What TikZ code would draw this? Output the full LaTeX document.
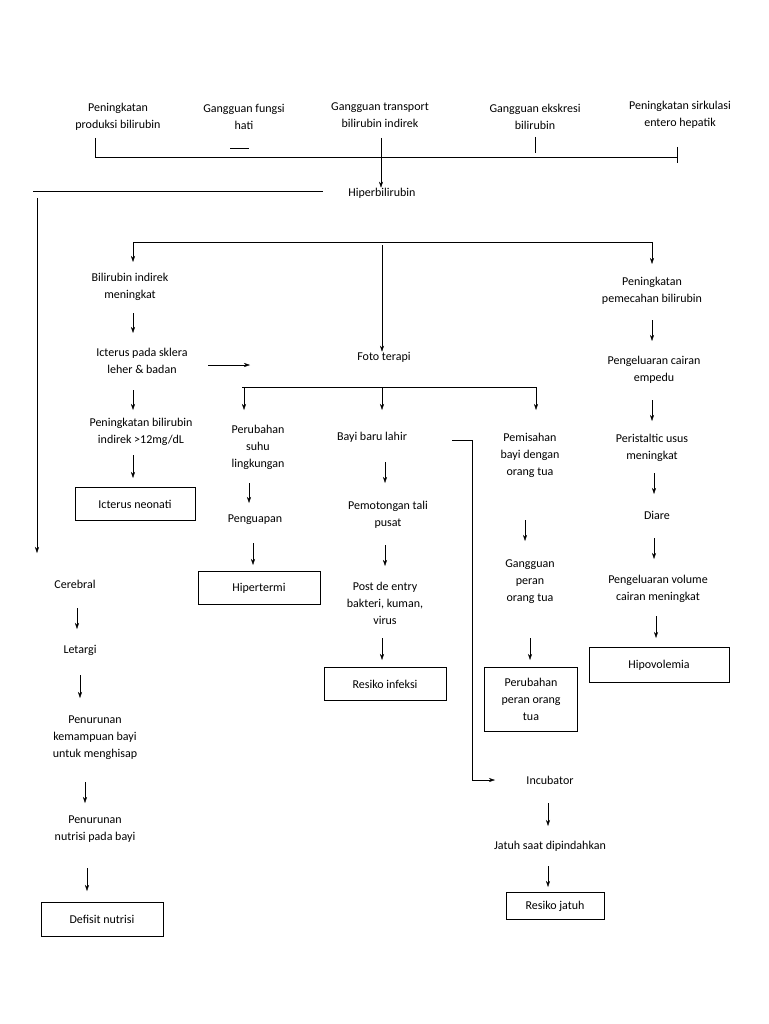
\documentclass[tikz,border=0pt]{standalone}
\usepackage{fontspec}
\setmainfont{Carlito}
\usetikzlibrary{arrows.meta}
\begin{document}
\begin{tikzpicture}[x=1pt,y=-1pt,
  t/.style={align=center,inner sep=0pt,font=\fontsize{12}{17}\selectfont},
  bx/.style={draw,thick,minimum height=#1,inner sep=2pt,font=\fontsize{12}{17}\selectfont,align=center},
  bx/.default=33pt,
  arr/.style={-{Stealth[length=6pt,width=4pt]},thin},
  ln/.style={thin}]
\useasboundingbox (0,0) rectangle (768,1024);
% top causes
\node[t] (c1) at (118,117) {Peningkatan\\produksi bilirubin};
\node[t] (c2) at (244,117) {Gangguan fungsi\\hati};
\node[t] (c3) at (380,115) {Gangguan transport\\bilirubin indirek};
\node[t] (c4) at (535,117) {Gangguan ekskresi\\bilirubin};
\node[t] (c5) at (680,115) {Peningkatan sirkulasi\\entero hepatik};
\coordinate (l1) at (95,157); \coordinate (r1) at (677,157);
\draw[ln] (95,138) -- (l1) -- (r1);
\draw[ln] (677,147) -- (677,163);
\draw[ln] (230,148) -- (249,148);
\draw[ln] (535,137) -- (535,153);
\node[t] (hb) at (382,193) {Hiperbilirubin};
\draw[arr] (381,138) -- (hb.north -| 381,0);
\coordinate (hl) at (33,191); \coordinate (hr) at (323,191);
\draw[ln] (hl) -- (hr);
% branch line
\coordinate (b1) at (133,242); \coordinate (b2) at (652,242);
\draw[ln] (b1) -- (b2);
% left column
\node[t] (a1) at (130,287) {Bilirubin indirek\\meningkat};
\node[t] (a2) at (142,361) {Icterus pada sklera\\leher \& badan};
\node[t] (a3) at (141,432) {Peningkatan bilirubin\\indirek >12mg/dL};
\node[bx,minimum width=120pt] (a4) at (135,504) {Icterus neonati};
\draw[arr] (b1) -- (133,262);
\draw[arr] (133,313) -- (133,333);
\draw[arr] (133,390) -- (133,410);
\draw[arr] (133,455) -- (133,478);
% foto terapi
\node[t] (ft) at (384,357) {Foto terapi};
\draw[arr] (382,245) -- (ft.north -| 382,0);
\draw[arr] (208,365) -- (250,365);
\coordinate (f1) at (242,387); \coordinate (f2) at (536,387);
\draw[ln] (f1) -- (f2);
\draw[arr] (244,387) -- (244,410);
\draw[arr] (382,387) -- (382,410);
\draw[arr] (536,387) -- (536,410);
% suhu
\node[t] (s1) at (258,447) {Perubahan\\suhu\\lingkungan};
\node[t] (s2) at (255,520) {Penguapan};
\node[bx,minimum width=122pt] (s3) at (259,588) {Hipertermi};
\draw[arr] (249,483) -- (249,503);
\draw[arr] (253,543) -- (253,565);
% bayi
\node[t] (y1) at (372,437) {Bayi baru lahir};
\node[t] (y2) at (388,515) {Pemotongan tali\\pusat};
\node[t] (y3) at (385,603) {Post de entry\\bakteri, kuman,\\virus};
\node[bx,minimum width=122pt] (y4) at (385,684) {Resiko infeksi};
\draw[arr] (385,462) -- (385,483);
\draw[arr] (385,545) -- (385,566);
\draw[arr] (382,638) -- (382,660);
\node[t] (i1) at (550,780) {Incubator};
\node[t] (i2) at (550,846) {Jatuh saat dipindahkan};
\node[bx=27pt,minimum width=98pt] (i3) at (555,906) {Resiko jatuh};
\draw[arr] (452,440) -- (472,440) -- (472,780) -- (495,780);
\draw[arr] (548,803) -- (548,826);
\draw[arr] (548,866) -- (548,887);
% pemisahan
\node[t] (p1) at (530,455) {Pemisahan\\bayi dengan\\orang tua};
\node[t] (p2) at (530,582) {Gangguan\\peran\\orang tua};
\node[bx=64pt,minimum width=93pt] (p3) at (531,699) {Perubahan\\peran orang\\tua};
\draw[arr] (525,520) -- (525,541);
\draw[arr] (530,638) -- (530,660);
% right
\node[t] (q1) at (652,291) {Peningkatan\\pemecahan bilirubin};
\node[t] (q2) at (654,370) {Pengeluaran cairan\\empedu};
\node[t] (q3) at (652,448) {Peristaltic usus\\meningkat};
\node[t] (q4) at (657,515) {Diare};
\node[t] (q5) at (658,589) {Pengeluaran volume\\cairan meningkat};
\node[bx=35pt,minimum width=140pt] (q6) at (659,665) {Hipovolemia};
\draw[arr] (b2) -- (652,264);
\draw[arr] (652,320) -- (652,341);
\draw[arr] (652,400) -- (652,421);
\draw[arr] (654,473) -- (654,494);
\draw[arr] (654,538) -- (654,559);
\draw[arr] (656,616) -- (656,638);
% far left
\node[t] (d1) at (75,584) {Cerebral};
\node[t] (d2) at (80,650) {Letargi};
\node[t] (d3) at (95,738) {Penurunan\\kemampuan bayi\\untuk menghisap};
\node[t] (d4) at (95,829) {Penurunan\\nutrisi pada bayi};
\node[bx=34pt,minimum width=122pt] (d5) at (102,919) {Defisit nutrisi};
\draw[arr] (37,198) -- (37,553);
\draw[arr] (77,608) -- (77,629);
\draw[arr] (80,675) -- (80,698);
\draw[arr] (85,782) -- (85,803);
\draw[arr] (87,868) -- (87,891);
\end{tikzpicture}
\end{document}
